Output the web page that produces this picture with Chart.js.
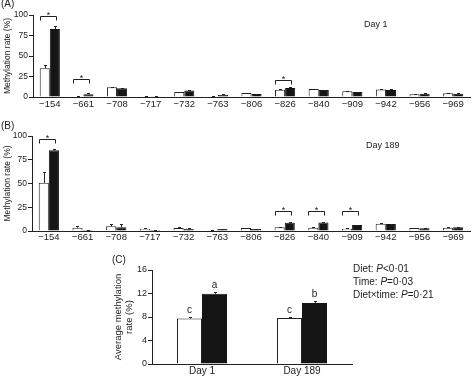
<!DOCTYPE html>
<html><head><meta charset="utf-8">
<script src="https://cdn.jsdelivr.net/npm/chart.js@4"></script>
<style>
html,body{margin:0;padding:0;background:#fff;}
#wrap{position:relative;width:474px;height:376px;overflow:hidden;font-family:'Liberation Sans',Arial,sans-serif;color:#222;}
canvas{position:absolute;}
.t{position:absolute;font-size:10px;line-height:12px;white-space:nowrap;}
.s{font-size:9px;}
</style></head><body>
<div id="wrap">
<canvas id="cA" width="474" height="115" style="left:0;top:0;width:474px;height:115px"></canvas>
<canvas id="cB" width="474" height="135" style="left:0;top:115px;width:474px;height:135px"></canvas>
<canvas id="cC" width="374" height="126" style="left:100px;top:250px;width:374px;height:126px"></canvas>
<div class="t" style="left:1px;top:-2px">(A)</div>
<div class="t" style="left:1px;top:120px">(B)</div>
<div class="t" style="left:112px;top:254px">(C)</div>
<div class="t s" style="left:364px;top:18px">Day 1</div>
<div class="t s" style="left:366px;top:139px">Day 189</div>
<div class="t" style="left:353px;top:263px">Diet: <i>P</i>&lt;0·01</div>
<div class="t" style="left:353px;top:276px">Time: <i>P</i>=0·03</div>
<div class="t" style="left:353px;top:289px">Diet×time: <i>P</i>=0·21</div>
</div>
<script>
// ---------- data ----------
const categories = ['−154','−661','−708','−717','−732','−763','−806','−826','−840','−909','−942','−956','−969'];
const yTicksAB = [0, 25, 50, 75, 100];
const yTicksC = [0, 4, 8, 12, 16];

const day1Open      = [35, 0.5, 11.8, 1, 6, 0.5, 4.9, 8.9, 9.8, 7, 9, 3.5, 4.5];
const day1OpenErr   = [4, 0.3, 0.5, 0.3, 0.5, 0.3, 0.4, 0.5, 0.5, 0.5, 0.5, 0.4, 0.4];
const day1Filled    = [83, 3.3, 10.6, 1, 8, 2.5, 3.7, 11, 8.5, 6, 8.5, 4, 4];
const day1FilledErr = [4, 1, 0.8, 0.3, 1, 1.5, 0.4, 1, 0.5, 0.5, 1, 0.4, 0.4];

const day189Open      = [50.7, 3.5, 4.9, 2.5, 3.1, 0.5, 3.1, 3.9, 3.5, 2.5, 7.7, 3.1, 3.5];
const day189OpenErr   = [11, 2, 2.4, 0.5, 1, 0.3, 0.5, 0.5, 0.7, 0.3, 0.8, 0.5, 0.3];
const day189Filled    = [85, 1, 3.9, 1, 2.5, 2, 2, 8.7, 9, 6.3, 7.3, 2.8, 3.9];
const day189FilledErr = [0.8, 0.3, 3, 0.3, 0.3, 0.5, 0.3, 0.6, 0.5, 0.5, 0.5, 0.3, 0.8];

const sigDay1 = ['−154', '−661', '−826'];
const sigDay1Height = [98.8, 22, 20.7];
const sigDay189 = ['−154', '−826', '−840', '−909'];
const sigDay189Height = [96.5, 21.3, 21.3, 21.3];

const daysC = ['Day 1', 'Day 189'];
const avgOpen = [7.75, 7.85];
const avgOpenErr = [0.2, 0.2];
const avgFilled = [11.95, 10.4];
const avgFilledErr = [0.3, 0.3];
const lettersOpen = ['c', 'c'];
const lettersFilled = ['a', 'b'];

// ---------- helpers ----------
const FAM = "'Liberation Sans', Arial, sans-serif";
const INK = '#222';
Chart.defaults.font.family = FAM;
Chart.defaults.color = INK;

function overlay(errs, sig, sigH, letters) {
  return {
    id: 'overlay',
    afterDatasetsDraw(chart) {
      const ctx = chart.ctx, ys = chart.scales.y;
      ctx.save();
      ctx.strokeStyle = INK; ctx.fillStyle = INK; ctx.lineWidth = 1;
      chart.data.datasets.forEach((ds, di) => {
        const meta = chart.getDatasetMeta(di);
        meta.data.forEach((bar, i) => {
          const v = ds.data[i], e = errs[di][i];
          const x = Math.round(bar.x) + 0.5;
          const y0 = ys.getPixelForValue(v), y1 = Math.round(ys.getPixelForValue(v + e)) + 0.5;
          ctx.beginPath();
          ctx.moveTo(x, y0); ctx.lineTo(x, y1);
          ctx.moveTo(x - 1.5, y1); ctx.lineTo(x + 1.5, y1);
          ctx.stroke();
          if (letters) {
            ctx.font = '10px ' + FAM;
            ctx.textAlign = 'center'; ctx.textBaseline = 'alphabetic';
            ctx.fillText(letters[di][i], bar.x, y1 - 5);
          }
        });
      });
      if (sig) {
        const m0 = chart.getDatasetMeta(0), m1 = chart.getDatasetMeta(1);
        sig.forEach((lab, k) => {
          const idx = chart.data.labels.indexOf(lab);
          const w = m0.data[idx], b = m1.data[idx];
          const xl = Math.round(w.x - w.width / 2) + 0.5;
          const xr = Math.round(b.x + 1) + 0.5;
          const yt = Math.round(ys.getPixelForValue(sigH[k])) + 0.5;
          ctx.beginPath();
          ctx.moveTo(xl, yt + 4); ctx.lineTo(xl, yt); ctx.lineTo(xr, yt); ctx.lineTo(xr, yt + 4);
          ctx.stroke();
          ctx.font = '9px ' + FAM;
          ctx.textAlign = 'center'; ctx.textBaseline = 'alphabetic';
          ctx.fillText('*', (xl + xr) / 2, yt + 1);
        });
      }
      ctx.restore();
    }
  };
}

function makeChart(id, labels, open, filled, errs, sig, sigH, letters, o) {
  return new Chart(document.getElementById(id), {
    type: 'bar',
    data: {
      labels: labels,
      datasets: [
        { data: open, backgroundColor: '#ffffff', borderColor: INK, borderWidth: 1,
          categoryPercentage: o.cat, barPercentage: 1 },
        { data: filled, backgroundColor: '#151515', borderColor: '#151515', borderWidth: 1,
          categoryPercentage: o.cat, barPercentage: 1 }
      ]
    },
    options: {
      responsive: false, animation: false,
      layout: { padding: o.pad },
      plugins: { legend: { display: false }, tooltip: { enabled: false } },
      scales: {
        x: {
          grid: { display: false, drawTicks: false },
          border: { display: true, color: INK, width: 1 },
          ticks: { font: { size: o.xf, family: FAM }, color: INK, padding: o.xpad, maxRotation: 0, autoSkip: false },
          afterFit(s) { s.height = o.xh; }
        },
        y: {
          min: 0, max: o.max,
          afterBuildTicks(s) { s.ticks = o.ticks.map(v => ({ value: v })); },
          grid: { drawOnChartArea: false, drawTicks: true, tickLength: 4, color: INK },
          border: { display: true, color: INK, width: 1 },
          ticks: { font: { size: o.yf, family: FAM }, color: INK, padding: 1 },
          title: { display: true, text: o.title, font: { size: o.tf, family: FAM, lineHeight: 1.25 }, color: INK,
                   padding: { top: o.tpad, bottom: 0 } },
          afterFit(s) { s.width = o.yw; }
        }
      }
    },
    plugins: [overlay(errs, sig, sigH, letters)]
  });
}

makeChart('cA', categories, day1Open, day1Filled, [day1OpenErr, day1FilledErr], sigDay1, sigDay1Height, null,
  { cat: 0.6, pad: { top: 15, right: 4, left: 0, bottom: 0 }, xh: 18, xpad: 2, yw: 33, max: 100, ticks: yTicksAB,
    title: 'Methylation rate (%)', tpad: 2, xf: 9.5, yf: 8.5, tf: 8.5 });
makeChart('cB', categories, day189Open, day189Filled, [day189OpenErr, day189FilledErr], sigDay189, sigDay189Height, null,
  { cat: 0.6, pad: { top: 21, right: 4, left: 0, bottom: 0 }, xh: 19, xpad: 1, yw: 32, max: 100, ticks: yTicksAB,
    title: 'Methylation rate (%)', tpad: 2, xf: 9.5, yf: 8.5, tf: 8.5 });
makeChart('cC', daysC, avgOpen, avgFilled, [avgOpenErr, avgFilledErr], null, null, [lettersOpen, lettersFilled],
  { cat: 0.5, pad: { top: 20, right: 122, left: 0, bottom: 0 }, xh: 12, xpad: 1, yw: 52, max: 16, ticks: yTicksC,
    title: ['Average methylation', 'rate (%)'], tpad: 12, xf: 10, yf: 9, tf: 9.5 });
</script>
</body></html>
